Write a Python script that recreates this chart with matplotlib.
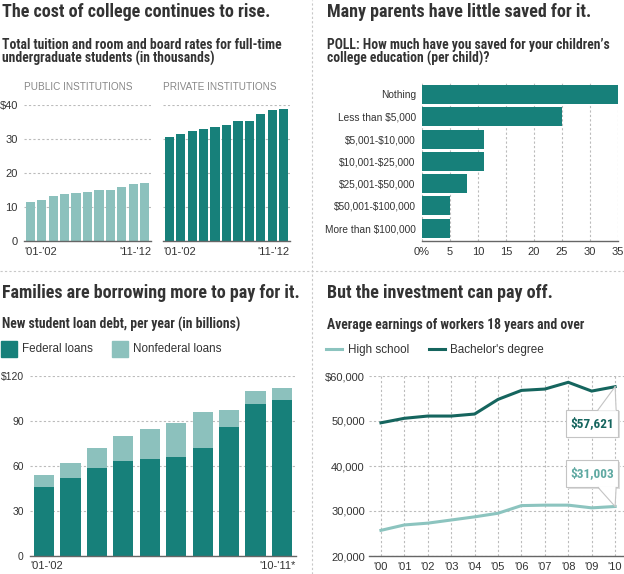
import numpy as np
import matplotlib
matplotlib.use("Agg")
import matplotlib.pyplot as plt
from matplotlib.patches import Rectangle, Polygon
from matplotlib.lines import Line2D

# ---- data ----
cost_years = ["'01-'02", "'02-'03", "'03-'04", "'04-'05", "'05-'06", "'06-'07",
              "'07-'08", "'08-'09", "'09-'10", "'10-'11", "'11-'12"]
public_cost = [11.6, 12.2, 13.1, 13.7, 14.0, 14.3, 14.9, 14.9, 16.0, 16.9, 17.2]
private_cost = [30.6, 31.5, 32.4, 33.0, 33.6, 34.2, 35.3, 35.3, 37.4, 38.6, 38.9]

saving_cats = ["Nothing", "Less than \\$5,000", "\\$5,001-\\$10,000", "\\$10,001-\\$25,000",
               "\\$25,001-\\$50,000", "\\$50,001-\\$100,000", "More than \\$100,000"]
saving_pct = [35, 25, 11, 11, 8, 5, 5]

loan_years = ["'01-'02", "'02-'03", "'03-'04", "'04-'05", "'05-'06",
              "'06-'07", "'07-'08", "'08-'09", "'09-'10", "'10-'11*"]
federal_loans = [46, 52, 58.7, 63.3, 64.7, 66, 72, 86, 101.3, 104]
nonfederal_loans = [8, 10, 13.3, 16.7, 20.0, 22.7, 24.0, 11.3, 8.7, 8.0]

earn_years = list(range(2000, 2011))
earn_labels = ["'00", "'01", "'02", "'03", "'04", "'05", "'06", "'07", "'08", "'09", "'10"]
high_school = [25700, 26900, 27300, 28000, 28700, 29500, 31200, 31300, 31300, 30700, 31003]
bachelors = [49600, 50600, 51100, 51100, 51550, 54800, 56800, 57100, 58600, 56650, 57621]

# ---- style ----
DARK = '#17807a'
LIGHT = '#8cc1bd'
LINE_DARK = '#15655e'
LINE_LIGHT = '#8cc4bf'
TXT = '#333333'
GRID = '#bbbbbb'
COND = ['Roboto Condensed', 'Roboto', 'DejaVu Sans']
plt.rcParams['font.family'] = ['Liberation Sans', 'DejaVu Sans']

W, H = 624, 574
fig = plt.figure(figsize=(W / 100, H / 100), dpi=100)


def add_ax(l, t, r, b):
    return fig.add_axes([l / W, 1 - b / H, (r - l) / W, (b - t) / H])


def ftext(x, y, s, **kw):
    kw.setdefault('color', TXT)
    fig.text(x / W, 1 - y / H, s, va='baseline', **kw)


def style(ax):
    for s in ['top', 'right', 'left']:
        ax.spines[s].set_visible(False)
    ax.spines['bottom'].set_color('#666666')
    ax.spines['bottom'].set_linewidth(1.0)
    ax.tick_params(length=0, labelsize=8, colors=TXT)
    ax.set_axisbelow(True)


TITLE = 13
SUB = 9.8
TICK = 8

# dividers
fig.add_artist(Line2D([312 / W, 312 / W], [0, 1], color='#c8c8c8', lw=0.8, ls=(0, (2, 2))))
fig.add_artist(Line2D([0, 1], [1 - 271 / H, 1 - 271 / H], color='#c8c8c8', lw=0.8, ls=(0, (2, 2))))

# ---- panel 1: cost ----
ftext(2, 17, "The cost of college continues to rise.", fontsize=TITLE, fontweight='bold', family=COND)
ftext(2, 49, "Total tuition and room and board rates for full-time", fontsize=SUB, fontweight='bold', family=COND)
ftext(2, 63, "undergraduate students (in thousands)", fontsize=SUB, fontweight='bold', family=COND)
ftext(24, 90.5, "PUBLIC INSTITUTIONS", fontsize=7.2, color='#888888')
ftext(163, 90.5, "PRIVATE INSTITUTIONS", fontsize=7.2, color='#888888')

for i, (l, r, vals, col) in enumerate([(24, 151, public_cost, LIGHT), (163, 290, private_cost, DARK)]):
    ax = add_ax(l, 105, r, 241)
    style(ax)
    x = np.arange(len(vals))
    ax.bar(x, vals, width=0.81, color=col)
    ax.set_xlim(-0.56, len(vals) - 1 + 0.56)
    ax.set_ylim(0, 40)
    ax.set_yticks([0, 10, 20, 30, 40])
    ax.yaxis.grid(True, color=GRID, lw=0.8, ls=(0, (2, 2)))
    if i == 0:
        ax.set_yticklabels(['0', '10', '20', '30', '\\$40'])
        ax.tick_params(axis='y', pad=4.5)
    else:
        ax.set_yticklabels([])
    ax.set_xticks([])
    ax.text(0, -0.045, cost_years[0], transform=ax.transAxes, ha='left', va='top', fontsize=TICK, color=TXT)
    ax.text(1, -0.045, cost_years[-1], transform=ax.transAxes, ha='right', va='top', fontsize=TICK, color=TXT)

# ---- panel 2: savings ----
ftext(327, 17, "Many parents have little saved for it.", fontsize=TITLE, fontweight='bold', family=COND)
ftext(327, 49, "POLL: How much have you saved for your children\u2019s", fontsize=SUB, fontweight='bold', family=COND)
ftext(327, 63, "college education (per child)?", fontsize=SUB, fontweight='bold', family=COND)

ax = add_ax(422, 81, 618, 241)
style(ax)
y = np.arange(len(saving_cats))
ax.barh(y, saving_pct, height=0.85, color=DARK)
ax.set_ylim(len(saving_cats) - 1 + 0.57, -0.6)
ax.set_xlim(0, 35)
ax.set_yticks(y)
ax.set_yticklabels(saving_cats, fontsize=7.3)
ax.set_xticks([0, 5, 10, 15, 20, 25, 30, 35])
ax.set_xticklabels(['0%', '5', '10', '15', '20', '25', '30', '35'])
ax.xaxis.grid(True, color=GRID, lw=0.8, ls=(0, (2, 2)))
ax.tick_params(axis='y', pad=4.5)
ax.tick_params(axis='x', pad=4)

# ---- panel 3: loans ----
ftext(2, 297.5, "Families are borrowing more to pay for it.", fontsize=TITLE, fontweight='bold', family=COND)
ftext(2, 329, "New student loan debt, per year (in billions)", fontsize=SUB, fontweight='bold', family=COND)
fig.add_artist(Rectangle((1 / W, 1 - 357 / H), 16 / W, 16 / H, transform=fig.transFigure, color=DARK))
ftext(22, 352.5, "Federal loans", fontsize=8.4)
fig.add_artist(Rectangle((112 / W, 1 - 357 / H), 16 / W, 16 / H, transform=fig.transFigure, color=LIGHT))
ftext(133, 352.5, "Nonfederal loans", fontsize=8.4)

ax = add_ax(30, 376, 296, 556)
style(ax)
x = np.arange(len(loan_years))
ax.bar(x, federal_loans, width=0.76, color=DARK)
ax.bar(x, nonfederal_loans, bottom=federal_loans, width=0.76, color=LIGHT)
ax.set_xlim(-0.53, len(loan_years) - 1 + 0.53)
ax.set_ylim(0, 120)
ax.set_yticks([0, 30, 60, 90, 120])
ax.set_yticklabels(['0', '30', '60', '90', '\\$120'])
ax.yaxis.grid(True, color=GRID, lw=0.8, ls=(0, (2, 2)))
ax.tick_params(axis='y', pad=4.5, labelsize=7.5)
ax.set_xticks([])
ax.text(0, -0.03, loan_years[0], transform=ax.transAxes, ha='left', va='top', fontsize=TICK, color=TXT)
ax.text(1, -0.03, loan_years[-1], transform=ax.transAxes, ha='right', va='top', fontsize=TICK, color=TXT)

# ---- panel 4: earnings ----
ftext(327, 297.5, "But the investment can pay off.", fontsize=TITLE, fontweight='bold', family=COND)
ftext(327, 329, "Average earnings of workers 18 years and over", fontsize=SUB, fontweight='bold', family=COND)
fig.add_artist(Line2D([326 / W, 342 / W], [1 - 349 / H] * 2, color=LINE_LIGHT, lw=2.2))
ftext(348, 352.5, "High school", fontsize=8.4)
fig.add_artist(Line2D([429 / W, 445 / W], [1 - 349 / H] * 2, color=LINE_DARK, lw=2.2))
ftext(450, 352.5, "Bachelor's degree", fontsize=8.4)

ax4 = add_ax(369, 376, 624, 556)
style(ax4)
ax4.plot(earn_years, high_school, color=LINE_LIGHT, lw=2.2, solid_joinstyle='miter')
ax4.plot(earn_years, bachelors, color=LINE_DARK, lw=2.2, solid_joinstyle='miter')
ax4.set_xlim(1999.49, 2010.38)
ax4.set_ylim(20000, 60000)
ax4.set_xticks(earn_years)
ax4.set_xticklabels(earn_labels)
ax4.set_yticks([20000, 30000, 40000, 50000, 60000])
ax4.set_yticklabels(['20,000', '30,000', '40,000', '50,000', '\\$60,000'])
ax4.grid(True, color=GRID, lw=0.8, ls=(0, (2, 2)))
ax4.tick_params(axis='y', pad=3)
ax4.tick_params(axis='x', pad=4)


# callouts
def callout(xv, yv, label, tcolor, above):
    dx, dy = ax4.transData.transform((xv, yv))
    px, py = dx, H - dy
    bw, bh = 52, 27
    right = px + 3
    if above:
        top = py + 23
        base_y = top
    else:
        top = py - 19 - bh
        base_y = top + bh
    left = right - bw
    # shadow
    fig.add_artist(Rectangle((left / W + 1.5 / W, 1 - (top + bh + 1.5) / H), bw / W, bh / H,
                             transform=fig.transFigure, fc='#dddddd', ec='none'))
    fig.add_artist(Rectangle((left / W, 1 - (top + bh) / H), bw / W, bh / H,
                             transform=fig.transFigure, fc='white', ec='#c4c4c4', lw=0.8))
    b1, b2 = right - 20, right - 2
    sgn = 1 if above else -1
    tri = [(b1, base_y + sgn * 1), (b2, base_y + sgn * 1), (px, py)]
    fig.add_artist(Polygon([(a / W, 1 - b / H) for a, b in tri], closed=True,
                           transform=fig.transFigure, fc='white', ec='none'))
    fig.add_artist(Line2D([b1 / W, px / W], [1 - base_y / H, 1 - py / H], color='#c4c4c4', lw=0.8))
    fig.add_artist(Line2D([b2 / W, px / W], [1 - base_y / H, 1 - py / H], color='#c4c4c4', lw=0.8))
    fig.text((left + bw / 2) / W, 1 - (top + bh / 2) / H, label, ha='center', va='center',
             fontsize=9.5, fontweight='bold', color=tcolor, family=COND)


callout(earn_years[-1], bachelors[-1], "\\$57,621", LINE_DARK, True)
callout(earn_years[-1], high_school[-1], "\\$31,003", '#5fa9a2', False)

fig.savefig("out.png", dpi=100)
